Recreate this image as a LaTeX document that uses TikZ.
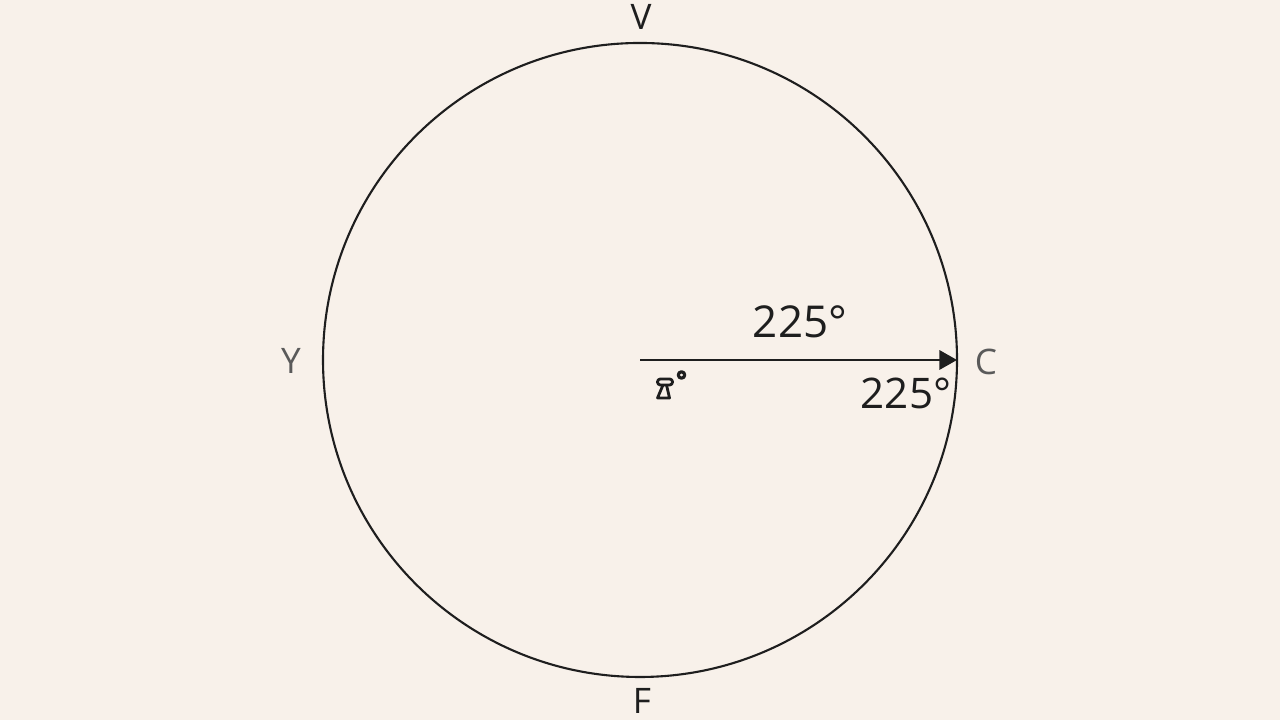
\documentclass[tikz,border=0pt]{standalone}
\usepackage{fontspec}
\setmainfont{Open Sans}
\usetikzlibrary{arrows.meta}
\definecolor{bg}{RGB}{248,241,234}
\definecolor{ink}{RGB}{30,30,30}
\definecolor{soft}{RGB}{90,90,90}
\tikzset{
  rim/.style={draw=ink, line width=0.6pt, circle, minimum size=6.34cm, inner sep=0pt},
  lbl/.style={text=soft, font=\fontsize{10}{12}\selectfont, inner sep=0pt},
  dark/.style={text=ink, font=\fontsize{10}{12}\selectfont, inner sep=0pt},
  big/.style={text=ink, font=\fontsize{12.5}{14}\selectfont, inner sep=0pt},
  ray/.style={draw=ink, line width=0.6pt, -{Triangle[length=5pt,width=5.5pt]}},
  glyph/.style={draw=ink, line width=0.8pt, line join=round}
}
\begin{document}
\begin{tikzpicture}
\fill[bg] (0,0) rectangle (12.8,7.2);
\useasboundingbox (0,0) rectangle (12.8,7.2);
\coordinate (O) at (6.4,3.6);
\node[rim] (circ) at (O) {};
\coordinate (E) at (9.57,3.6);
\draw[ray] (O) -- (E);
\node[dark] (top) at (6.41,7.03) {V};
\node[lbl] (left) at (2.91,3.59) {Y};
\node[lbl] (right) at (9.86,3.58) {C};
\node[dark] (bot) at (6.42,0.19) {F};
\node[big] (a1) at (8.0,3.98) {225°};
\node[big, font=\fontsize{12}{14}\selectfont] (a2) at (9.06,3.27) {225°};
% small hourglass-like symbol with degree mark
\draw[glyph, rounded corners=0.8pt] (6.575,3.41) rectangle (6.725,3.35);
\draw[glyph] (6.63,3.35) -- (6.575,3.22) -- (6.695,3.22) -- (6.665,3.35);
\draw[glyph, line width=0.9pt] (6.815,3.45) circle (0.032);
\end{tikzpicture}
\end{document}
